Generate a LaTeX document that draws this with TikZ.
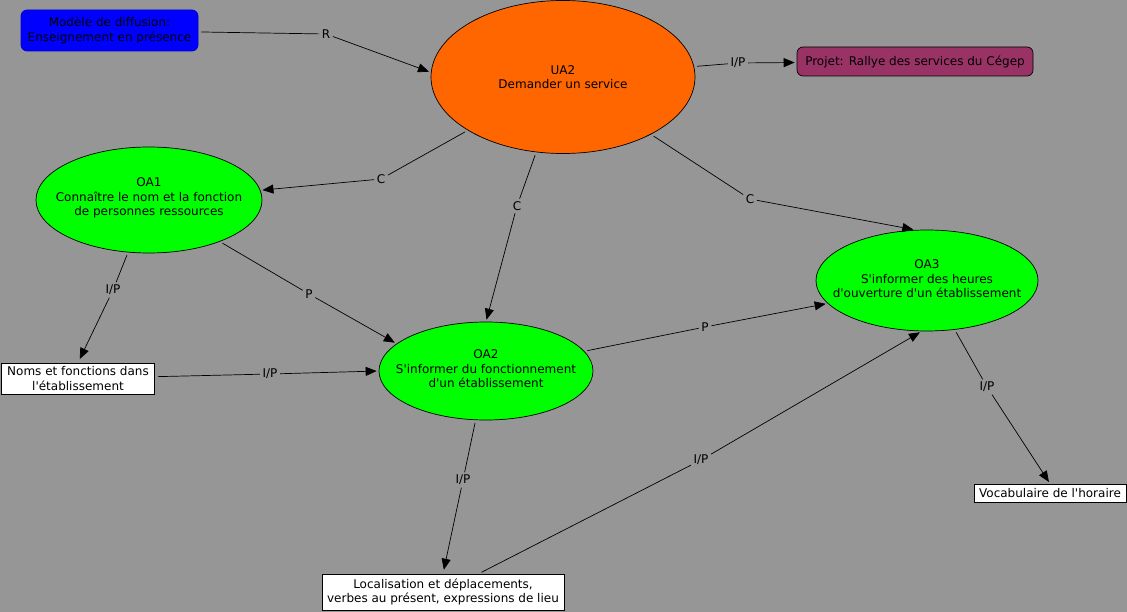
\documentclass[tikz,border=0pt]{standalone}
\usepackage{fontspec}
\newfontfamily\dvsans{DejaVu Sans}
\usetikzlibrary{shapes.geometric,arrows.meta}
\definecolor{bggray}{HTML}{969696}
\definecolor{ublue}{HTML}{0000FF}
\definecolor{uorange}{HTML}{FF6600}
\definecolor{ugreen}{HTML}{00FF00}
\definecolor{uplum}{HTML}{993366}
\begin{document}
\begin{tikzpicture}[x=1pt,y=-1pt,
  every node/.style={font=\dvsans\fontsize{12}{14.5}\selectfont, align=center, text=black},
  oval/.style={ellipse, draw=black, line width=0.7pt, inner sep=0pt},
  rbox/.style={rectangle, rounded corners=6pt, line width=0.7pt, inner sep=0pt},
  wbox/.style={rectangle, draw=black, fill=white, line width=0.7pt, inner sep=0pt},
  lab/.style={inner sep=2.5pt},
  conn/.style={draw=black, line width=0.7pt, shorten <=3pt},
  arr/.style={draw=black, line width=0.7pt, -{Triangle[length=11pt,width=9pt]}, shorten >=2pt}
]
\fill[bggray] (0,0) rectangle (1127,612);
\useasboundingbox (0,0) rectangle (1127,612);

% nodes
\node[rbox, fill=ublue, draw=blue!80!black, minimum width=177pt, minimum height=41pt] (diff) at (109.5,30.5) {Modèle de diffusion:\\Enseignement en présence};
\node[oval, fill=uorange, minimum width=264pt, minimum height=153pt] (ua2) at (563,77) {};
\node (ua2t) at (ua2.center) {UA2\\Demander un service};
\node[rbox, fill=uplum, draw=black, minimum width=236pt, minimum height=29pt] (proj) at (915,61.5) {Projet: Rallye des services du Cégep};
\node[oval, fill=ugreen, minimum width=226pt, minimum height=106pt] (oa1) at (149,200) {};
\node (oa1t) at (149,198) {OA1\\Connaître le nom et la fonction\\de personnes ressources};
\node[oval, fill=ugreen, minimum width=214pt, minimum height=98pt] (oa2) at (486,371) {};
\node (oa2t) at (486,369) {OA2\\S'informer du fonctionnement\\d'un établissement};
\node[oval, fill=ugreen, minimum width=222pt, minimum height=101pt] (oa3) at (927,280.5) {};
\node (oa3t) at (927,279) {OA3\\S'informer des heures\\d'ouverture d'un établissement};
\node[wbox, minimum width=153pt, minimum height=31pt] (noms) at (78,378.5) {Noms et fonctions dans\\l'établissement};
\node[wbox, minimum width=152pt, minimum height=18pt] (voc) at (1050,493) {Vocabulaire de l'horaire};
\node[wbox, minimum width=242pt, minimum height=36pt] (loc) at (443,592) {Localisation et déplacements,\\verbes au présent, expressions de lieu};

% link labels
\node[lab] (l1) at (326,34) {R};
\node[lab] (l2) at (738,63) {I/P};
\node[lab] (l3) at (381,179) {C};
\node[lab] (l4) at (517,206) {C};
\node[lab] (l5) at (750,199) {C};
\node[lab] (l6) at (113,290) {I/P};
\node[lab] (l7) at (309,294) {P};
\node[lab] (l8) at (270,374) {I/P};
\node[lab] (l9) at (705,327) {P};
\node[lab] (l10) at (463,480) {I/P};
\node[lab] (l11) at (701,460) {I/P};
\node[lab] (l12) at (987,387) {I/P};

% connectors
\draw[conn] (diff) -- (l1); \draw[arr] (l1) -- (ua2.178);
\draw[conn] (ua2) -- (l2); \draw[arr] (l2) -- (proj);
\draw[conn] (ua2) -- (l3); \draw[arr] (l3) -- (oa1.5);
\draw[conn] (ua2) -- (l4); \draw[arr] (l4) -- (oa2.90);
\draw[conn] (ua2) -- (l5); \draw[arr] (l5) -- (oa3.103);
\draw[conn] (oa1) -- (l6); \draw[arr, shorten >=4pt] (l6) -- (noms.north);
\draw[conn] (oa1) -- (l7); \draw[arr] (l7) -- (oa2.163);
\draw[conn] (noms) -- (l8); \draw[arr] (l8) -- (oa2.west);
\draw[conn] (oa2) -- (l9); \draw[arr] (l9) -- (oa3.193);
\draw[conn] (oa2) -- (l10); \draw[arr, shorten >=4pt] (l10) -- (loc.north);
\draw[conn] (loc) -- (l11); \draw[arr] (l11) -- (oa3.264);
\draw[conn] (oa3) -- (l12); \draw[arr] (l12) -- (voc.north);
\end{tikzpicture}
\end{document}
